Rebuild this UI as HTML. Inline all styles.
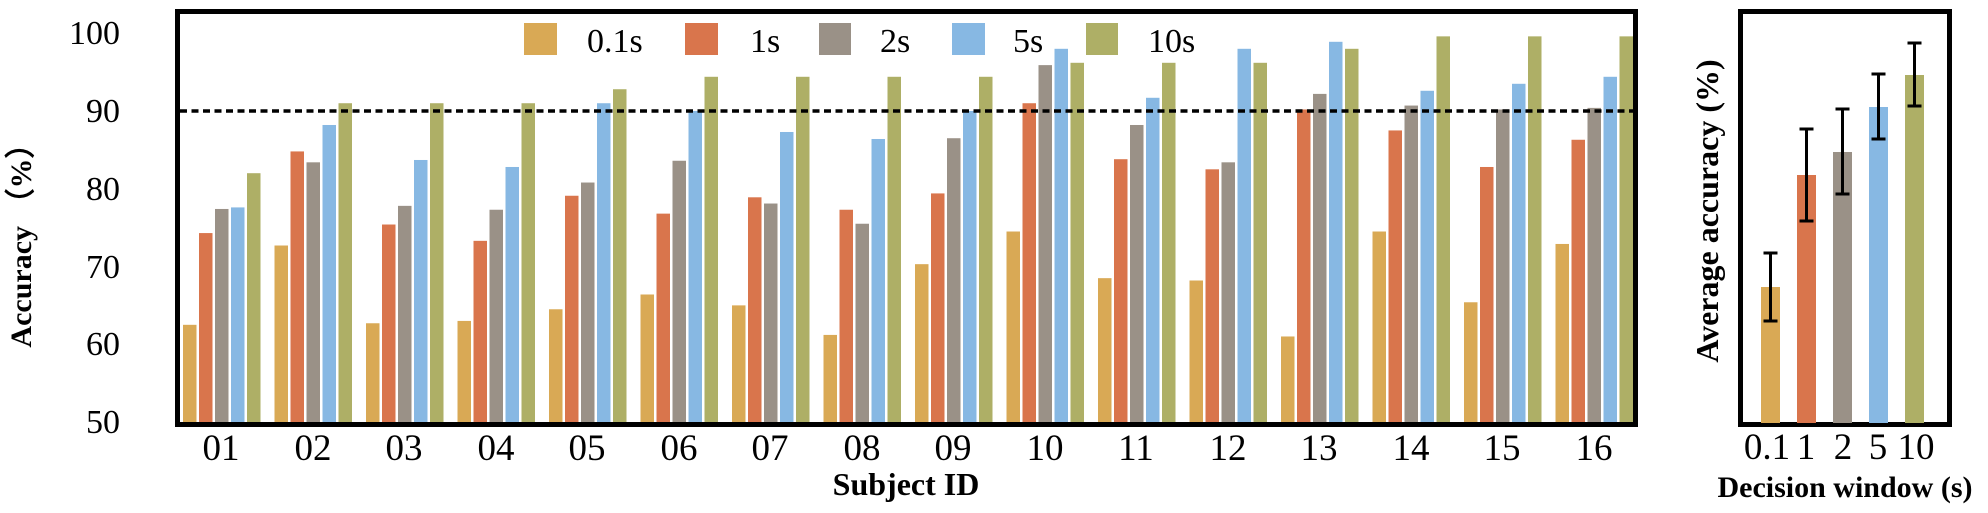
<!DOCTYPE html>
<html><head><meta charset="utf-8"><style>
html,body{margin:0;padding:0;background:#fff;}
svg{display:block;}
svg text{font-family:"Liberation Serif","Times New Roman","DejaVu Serif",serif !important;fill:#000;}
</style></head><body>
<svg id="s" width="1988" height="513" viewBox="0 0 1988 513" xmlns="http://www.w3.org/2000/svg" font-family="'Liberation Serif', 'DejaVu Serif', serif">
<g id="bars"></g>
<line x1="180" y1="111" x2="1633" y2="111" stroke="#000" stroke-width="3.5" stroke-dasharray="7,4.5"/>
<rect x="177.5" y="11.5" width="1458" height="413" fill="none" stroke="#000" stroke-width="5"/>
<rect x="1740.5" y="11.5" width="209" height="413" fill="none" stroke="#000" stroke-width="5"/>
<rect x="524" y="23" width="33" height="32" fill="#D9A955"/>
<text x="587" y="52" font-size="34">0.1s</text>
<rect x="685" y="23" width="33" height="32" fill="#D9754C"/>
<text x="750" y="52" font-size="34">1s</text>
<rect x="819" y="23" width="32" height="32" fill="#9A9187"/>
<text x="880" y="52" font-size="34">2s</text>
<rect x="952" y="23" width="33" height="32" fill="#87B8E3"/>
<text x="1013" y="52" font-size="34">5s</text>
<rect x="1086" y="23" width="32" height="32" fill="#AEAF66"/>
<text x="1148" y="52" font-size="34">10s</text>
<g font-size="34" text-anchor="end">
<text x="120" y="44">100</text>
<text x="120" y="122">90</text>
<text x="120" y="200">80</text>
<text x="120" y="278">70</text>
<text x="120" y="355">60</text>
<text x="120" y="433">50</text>
</g>
<text transform="translate(31,238) rotate(-90)" font-size="30" font-weight="bold" text-anchor="middle">Accuracy （%）</text>
<g font-size="37" text-anchor="middle">
<text x="221" y="460">01</text><text x="313" y="460">02</text><text x="404" y="460">03</text><text x="496" y="460">04</text>
<text x="587" y="460">05</text><text x="679" y="460">06</text><text x="770" y="460">07</text><text x="862" y="460">08</text>
<text x="953" y="460">09</text><text x="1045" y="460">10</text><text x="1136" y="460">11</text><text x="1228" y="460">12</text>
<text x="1319" y="460">13</text><text x="1411" y="460">14</text><text x="1502" y="460">15</text><text x="1594" y="460">16</text>
</g>
<text x="906" y="495" font-size="32" font-weight="bold" text-anchor="middle">Subject ID</text>
<g id="rb"></g>
<g font-size="37" text-anchor="middle">
<text x="1767" y="459">0.1</text><text x="1806" y="459">1</text><text x="1843" y="459">2</text><text x="1878" y="459">5</text><text x="1916" y="459">10</text>
</g>
<text x="1845" y="497" font-size="30" font-weight="bold" text-anchor="middle">Decision window (s)</text>
<text transform="translate(1718,211) rotate(-90)" font-size="32" font-weight="bold" text-anchor="middle">Average accuracy (%)</text>
</svg>
<script>
var C=["#D9A955","#D9754C","#9A9187","#87B8E3","#AEAF66"];
var D=[[62.5,74.3,77.4,77.6,82],[72.7,84.8,83.4,88.2,91],[62.7,75.4,77.8,83.7,91],[63,73.3,77.3,82.8,91],
[64.5,79.1,80.8,91,92.8],[66.4,76.8,83.6,90,94.4],[65,78.9,78.1,87.3,94.4],[61.2,77.3,75.5,86.4,94.4],
[70.3,79.4,86.5,90,94.4],[74.5,91,95.9,98,96.2],[68.5,83.8,88.2,91.7,96.2],[68.2,82.5,83.4,98,96.2],
[61,90.2,92.2,98.9,98],[74.5,87.5,90.7,92.6,99.6],[65.4,82.8,90.2,93.5,99.6],[72.9,86.3,90.4,94.4,99.6]];
var g=document.getElementById("bars"),s="";
function y(v){return 422-(v-50)*7.775;}
for(var i=0;i<16;i++)for(var j=0;j<5;j++){var x=183+i*91.5+j*16,t=y(D[i][j]);
s+='<rect x="'+x+'" y="'+t+'" width="13.5" height="'+(423-t)+'" fill="'+C[j]+'"/>';}
g.innerHTML=s;
var R=[[1761,287,253,321],[1797,175,129,221],[1833,152,109,194],[1869,107,74,139],[1905,75,43,106]],r="";
for(var k=0;k<5;k++){var a=R[k],cx=a[0]+9.5;
r+='<rect x="'+a[0]+'" y="'+a[1]+'" width="19" height="'+(423-a[1])+'" fill="'+C[k]+'"/>';
r+='<line x1="'+cx+'" y1="'+a[2]+'" x2="'+cx+'" y2="'+a[3]+'" stroke="#000" stroke-width="3"/>';
r+='<line x1="'+(cx-7)+'" y1="'+a[2]+'" x2="'+(cx+7)+'" y2="'+a[2]+'" stroke="#000" stroke-width="3"/>';
r+='<line x1="'+(cx-7)+'" y1="'+a[3]+'" x2="'+(cx+7)+'" y2="'+a[3]+'" stroke="#000" stroke-width="3"/>';}
document.getElementById("rb").innerHTML=r;
</script>
</body></html>
